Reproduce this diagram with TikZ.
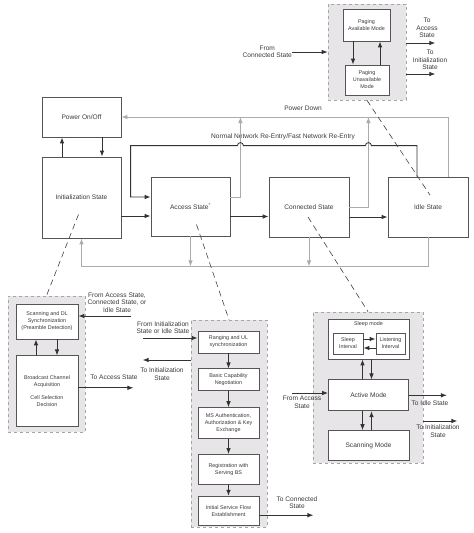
\documentclass[tikz,border=0pt]{standalone}
\usepackage{fontspec}
\setmainfont{Liberation Sans}
\usepackage{tikz}
\usetikzlibrary{arrows.meta,positioning,calc}
\definecolor{boxline}{HTML}{555555}
\definecolor{txt}{HTML}{3A3A3A}
\definecolor{grayarr}{HTML}{ABABAB}
\definecolor{grpfill}{HTML}{E8E5E9}
\definecolor{grpline}{HTML}{A5A5A5}

\begin{document}
\begin{tikzpicture}[
    x=1pt,y=-1pt,
    box/.style={rectangle,draw=boxline,line width=0.8pt,fill=white,align=center,inner sep=1pt,text=txt,font=\fontsize{6.6}{8}\selectfont},
    sbox/.style={box,font=\fontsize{5.4}{7}\selectfont},
    grp/.style={rectangle,draw=grpline,fill=grpfill,dashed,line width=0.7pt},
    lbl/.style={align=center,text=txt,inner sep=0pt,font=\fontsize{6.6}{7.5}\selectfont},
    bl/.style={draw=black!80,line width=0.85pt},
    gl/.style={draw=grayarr,line width=0.9pt},
    dl/.style={draw=black!75,dash pattern=on 6pt off 4pt,line width=0.6pt},
    >={Latex[length=6pt,width=4.6pt]}]
    \useasboundingbox (0,0) rectangle (474,533);

    \node[grp,minimum width=78pt,minimum height=96pt] (pgrp) at (367,52) {};
    \node[grp,minimum width=77pt,minimum height=136pt] (sgrp) at (46.5,364) {};
    \node[grp,minimum width=76pt,minimum height=207pt] (rgrp) at (229,423.5) {};
    \node[grp,minimum width=110pt,minimum height=151pt] (agrp) at (368,387.5) {};

    \node[box,minimum width=79pt,minimum height=40pt] (pwr) at (81.5,117) {Power On/Off};
    \node[box,minimum width=79pt,minimum height=81pt] (init) at (81.5,197.5) {Initialization State};
    \node[box,minimum width=79pt,minimum height=59pt] (acc) at (190.5,206.5) {Access State\textsuperscript{*}};
    \node[box,minimum width=80pt,minimum height=60pt] (con) at (309,207) {Connected State};
    \node[box,minimum width=80pt,minimum height=60pt] (idle) at (428,207) {Idle State};

    \node[sbox,minimum width=47pt,minimum height=32pt] (pav) at (366.5,25) {Paging\\Available Mode};
    \node[sbox,minimum width=44pt,minimum height=30pt] (pun) at (367,80) {Paging\\Unavailable\\Mode};
    \node[lbl,anchor=east] (fcs) at (292,52) {From\\Connected State};
    \node[lbl] (tas1) at (427,28) {To\\Access\\State};
    \node[lbl] (tis1) at (430,60) {To\\Initialization\\State};
    \node[lbl] (pdl) at (303,108) {Power Down};
    \node[lbl] (nre) at (283,137) {Normal Network Re-Entry/Fast Network Re-Entry};

    \node[sbox,minimum width=62pt,minimum height=35pt] (scan) at (47,321.5) {Scanning and DL\\Synchronization\\(Preamble Detection)};
    \node[sbox,minimum width=62pt,minimum height=71pt,below=16pt of scan] (bcast) {Broadcast Channel\\Acquisition\\[6pt]Cell Selection\\Decision};
    \node[lbl] (fac) at (117,302.5) {From Access State,\\Connected State, or\\Idle State};
    \node[lbl] (tas2) at (114,377) {To Access State};

    \node[sbox,minimum width=61pt,minimum height=22pt] (b1) at (228.5,342) {Ranging and UL\\synchronization};
    \node[sbox,minimum width=61pt,minimum height=22pt,below=15pt of b1] (b2) {Basic Capability\\Negotiation};
    \node[sbox,minimum width=61pt,minimum height=31pt,below=16pt of b2] (b3) {MS Authentication,\\Authorization \& Key\\Exchange};
    \node[sbox,minimum width=61pt,minimum height=30pt,below=15pt of b3] (b4) {Registration with\\Serving BS};
    \node[sbox,minimum width=61pt,minimum height=29pt,below=11pt of b4] (b5) {Initial Service Flow\\Establishment};
    \node[lbl] (fis) at (163,327.5) {From Initialization\\State or Idle State};
    \node[lbl] (tis2) at (162,374) {To Initialization\\State};
    \node[lbl] (tcs) at (297,502.5) {To Connected\\State};

    \node[sbox,minimum width=81pt,minimum height=40pt] (slp) at (368.5,339) {};
    \node[lbl,font=\fontsize{5.4}{7}\selectfont,below=3pt of slp.north] (slpl) {Sleep mode};
    \node[sbox,minimum width=30pt,minimum height=21pt] (sint) at (348,343.5) {Sleep\\Interval};
    \node[sbox,minimum width=29pt,minimum height=21pt] (lint) at (390.5,343.5) {Listening\\Interval};
    \node[box,minimum width=80pt,minimum height=31pt,below=20pt of slp] (active) {Active Mode};
    \node[box,minimum width=81pt,minimum height=30pt,below=19pt of active] (scm) {Scanning Mode};
    \node[lbl] (fas) at (302,402.5) {From Access\\State};
    \node[lbl] (tid) at (430,403) {To Idle State};
    \node[lbl] (tis3) at (438,431) {To Initialization\\State};

    \coordinate (ja) at ($(acc.east)+(10,-9.5)$);
    \coordinate (jc) at ($(con.east)+(19,0)$);
    \coordinate (rey) at ($(idle.north)+(0,-31)$);
    \coordinate (gb) at ($(init.south)+(0,28)$);
    \coordinate (fasin) at (292,393);

    \draw[gl,->] ([xshift=20pt]idle.north) |- (pwr.east);
    \draw[gl,->] ([yshift=9.5pt]acc.east) -- (ja) -- (ja|-pwr.east);
    \draw[gl,->] (con.east) -- (jc) -- (jc|-pwr.east);
    \draw[gl,->] (idle.south) |- (gb) -- (init.south);
    \draw[gl,->] (acc.south) -- (acc.south|-gb);
    \draw[gl,->] (con.south) -- (con.south|-gb);

    \draw[bl,->] ([xshift=-19.5pt]init.north) -- ([xshift=-19.5pt]pwr.south);
    \draw[bl,->] ([xshift=20.5pt]pwr.south) -- ([xshift=20.5pt]init.north);
    \draw[bl,->] ([yshift=-18.5pt]init.east) -- ([yshift=-18.5pt]init.east -| acc.west);
    \draw[bl,->] ([yshift=-10pt]acc.east) -- ([yshift=-10pt]acc.east -| con.west);
    \draw[bl,->] ([yshift=-10pt]con.east) -- ([yshift=-10pt]con.east -| idle.west);
    \draw[bl,->] ([xshift=-11pt]idle.north) |- ($(jc|-rey)+(3,0)$)
      arc[start angle=0,end angle=180,radius=3pt]
      -- ($(ja|-rey)+(3,0)$)
      arc[start angle=0,end angle=180,radius=3pt]
      -| ($(acc.west)+(-20,-9.5)$) -- ([yshift=9.5pt]acc.west);

    \draw[bl,->] ([xshift=-13.5pt]pav.south) -- ([xshift=-13.5pt]pav.south |- pun.north);
    \draw[bl,->] ([xshift=13.5pt]pav.south |- pun.north) -- ([xshift=13.5pt]pav.south);
    \draw[bl,->] (fcs.east) -- (pgrp.west |- fcs.east);
    \draw[bl,->] ([yshift=9pt]pgrp.east) -- ++(29,0);
    \draw[bl,->] ([yshift=-22pt]pgrp.east) -- ++(29,0);

    \draw[bl,->] ([xshift=-11pt]bcast.north) -- ([xshift=-11pt]bcast.north |- scan.south);
    \draw[bl,->] ([xshift=10pt]bcast.north |- scan.south) -- ([xshift=10pt]bcast.north);
    \draw[bl,->] ([yshift=5.5pt,xshift=53pt]scan.east) -- ([yshift=5.5pt]scan.east);
    \draw[bl,->] ([yshift=3.5pt]bcast.east) -- ++(55,0);

    \draw[bl,->] (b1) -- (b2);
    \draw[bl,->] (b2) -- (b3);
    \draw[bl,->] (b3) -- (b4);
    \draw[bl,->] (b4) -- (b5);
    \draw[bl,->] ([yshift=4pt,xshift=-55pt]b1.west) -- ([yshift=4pt]b1.west);
    \draw[bl,->] ([yshift=63.5pt]rgrp.west) -- ++(-48,0);
    \draw[bl,->] ([yshift=-4.5pt]b5.east) -- ++(54,0);

    \draw[bl,->] ([yshift=4.5pt]sint.east) -- ([yshift=4.5pt]lint.west);
    \draw[bl,->] ([yshift=-4.5pt]lint.west) -- ([yshift=-4.5pt]sint.east);
    \draw[bl,->] ([xshift=-6pt]active.north) -- ([xshift=-6pt]active.north |- slp.south);
    \draw[bl,->] ([xshift=3pt]active.north |- slp.south) -- ([xshift=3pt]active.north);
    \draw[bl,->] ([xshift=-6pt]active.south) -- ([xshift=-6pt]active.south |- scm.north);
    \draw[bl,->] ([xshift=3pt]active.south |- scm.north) -- ([xshift=3pt]active.south);
    \draw[bl,->] (fasin) -- (fasin -| active.west);
    \draw[bl,->] (active.east) -- ++(38,0);
    \draw[bl,->] ([yshift=-33.5pt]agrp.east) -- ++(34,0);

    \draw[dl] ($(init.center)+(-3,17)$) -- (sgrp.north);
    \draw[dl] ($(acc.center)+(6,18)$) -- (rgrp.north);
    \draw[dl] ($(con.center)+(-1,10)$) -- (agrp.north);
    \draw[dl] (pgrp.south) -- ($(idle.center)+(2,-12)$);
\end{tikzpicture}
\end{document}
